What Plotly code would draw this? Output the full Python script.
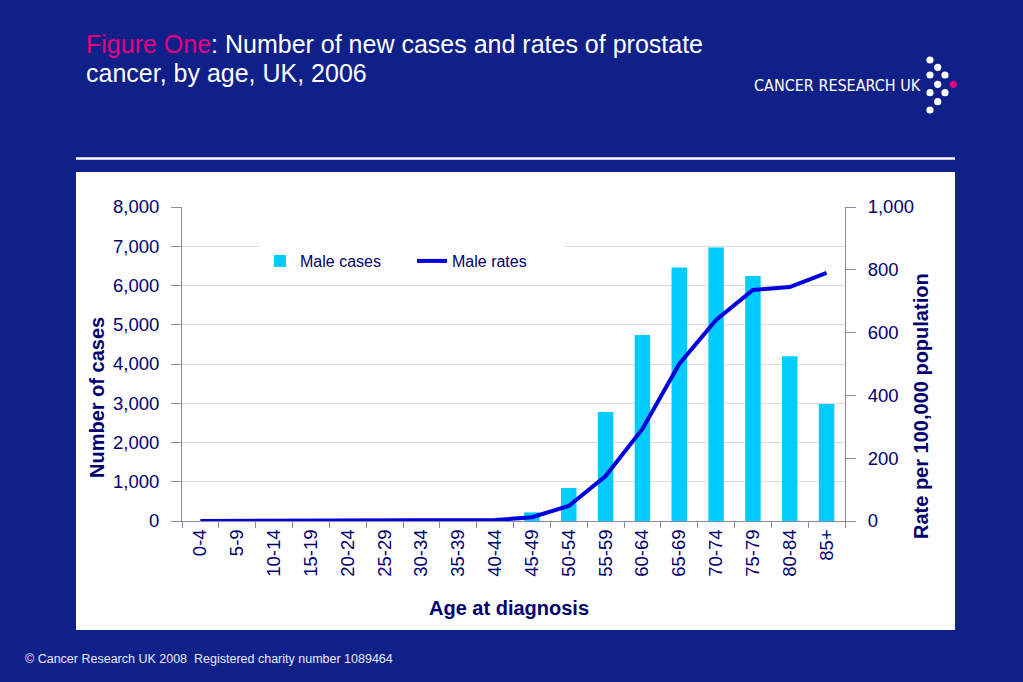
import plotly.graph_objects as go

# ---------------- data ----------------
age_groups = ["0-4", "5-9", "10-14", "15-19", "20-24", "25-29", "30-34", "35-39",
              "40-44", "45-49", "50-54", "55-59", "60-64", "65-69", "70-74",
              "75-79", "80-84", "85+"]
male_cases = [0, 0, 0, 1, 0, 0, 1, 5, 40, 220, 840, 2780, 4740, 6460, 6970, 6240, 4200, 2980]
male_rates = [0, 0, 0, 0, 0, 0, 0, 0.3, 3, 12, 48, 143, 293, 500, 640, 736, 745, 790]
left_ticks = [0, 1000, 2000, 3000, 4000, 5000, 6000, 7000, 8000]
right_ticks = [0, 200, 400, 600, 800, 1000]

# ---------------- layout geometry (pixels) ----------------
FW, FH = 1023, 682
L, R, T, B = 182, 845, 207, 521
W, H = R - L, B - T

def px(x):
    return (x - L) / W

def py(y):
    return 1 - (y - T) / H

NAVY = "#0f2189"
TXT = "#000070"
PINK = "#e6007e"
FONT = "Liberation Sans, Arial, sans-serif"
NARROW = "Liberation Sans Narrow, DejaVu Sans Condensed, Liberation Sans, sans-serif"
TICK = 18.5

fig = go.Figure()
fig.add_trace(go.Bar(x=age_groups, y=male_cases, name="Male cases",
                     marker=dict(color="#00ccff", line=dict(width=0)),
                     width=0.42, yaxis="y"))
fig.add_trace(go.Scatter(x=age_groups, y=male_rates, name="Male rates",
                         mode="lines", line=dict(color="#0000dd", width=4),
                         yaxis="y2"))

shapes = []
# white panel
shapes.append(dict(type="rect", xref="paper", yref="paper", layer="below",
                   x0=px(76), x1=px(955), y0=py(630), y1=py(172),
                   fillcolor="white", line=dict(width=0)))
# white rule
shapes.append(dict(type="line", xref="paper", yref="paper",
                   x0=px(76), x1=px(955), y0=py(158.5), y1=py(158.5),
                   line=dict(color="white", width=2.5)))
# logo dots
dots = [(930, 60), (937.7, 67.3), (930, 75), (945, 75), (937.7, 84.3),
        (930, 92.7), (945, 92.7), (937.7, 101.7), (930, 110)]
r = 3.6
for (cx, cy) in dots:
    shapes.append(dict(type="circle", xref="paper", yref="paper",
                       x0=px(cx - r), x1=px(cx + r), y0=py(cy + r), y1=py(cy - r),
                       fillcolor="white", line=dict(width=0)))
cx, cy = 953.3, 84.3
shapes.append(dict(type="circle", xref="paper", yref="paper",
                   x0=px(cx - r), x1=px(cx + r), y0=py(cy + r), y1=py(cy - r),
                   fillcolor=PINK, line=dict(width=0)))

annotations = [
    dict(text="<span style='color:%s'>Figure One</span>: Number of new cases and rates of prostate" % PINK,
         xref="paper", yref="paper", x=px(84), y=py(44), xanchor="left", yanchor="middle",
         align="left", showarrow=False, font=dict(family=FONT, size=25, color="white")),
    dict(text="cancer, by age, UK, 2006",
         xref="paper", yref="paper", x=px(84), y=py(73.5), xanchor="left", yanchor="middle",
         align="left", showarrow=False, font=dict(family=FONT, size=25, color="white")),
    dict(text="CANCER RESEARCH UK", xref="paper", yref="paper", x=px(923), y=py(86),
         xanchor="right", yanchor="middle", showarrow=False,
         font=dict(family=NARROW, size=16, color="white")),
    dict(text="© Cancer Research UK 2008  Registered charity number 1089464",
         xref="paper", yref="paper", x=px(23), y=py(659), xanchor="left", yanchor="middle",
         showarrow=False, font=dict(family=FONT, size=12.5, color="#e8e8ff")),
    dict(text="<b>Number of cases</b>", xref="paper", yref="paper", x=px(97), y=py(398),
         xanchor="center", yanchor="middle", textangle=-90, showarrow=False,
         font=dict(family=FONT, size=20, color=TXT)),
    dict(text="<b>Rate per 100,000 population</b>", xref="paper", yref="paper", x=px(921), y=py(406),
         xanchor="center", yanchor="middle", textangle=-90, showarrow=False,
         font=dict(family=FONT, size=20, color=TXT)),
    dict(text="<b>Age at diagnosis</b>", xref="paper", yref="paper", x=px(509), y=py(608),
         xanchor="center", yanchor="middle", showarrow=False,
         font=dict(family=FONT, size=20, color=TXT)),
]

fig.update_layout(
    width=FW, height=FH,
    margin=dict(l=L, r=FW - R, t=T, b=FH - B, pad=0),
    paper_bgcolor=NAVY, plot_bgcolor="white",
    font=dict(family=FONT, color=TXT),
    shapes=shapes, annotations=annotations,
    showlegend=True,
    legend=dict(orientation="h", x=px(260), y=py(261), xanchor="left", yanchor="middle",
                bgcolor="white", font=dict(family=FONT, size=16, color=TXT),
                itemwidth=30, traceorder="normal", entrywidth=107, entrywidthmode="pixels"),
    xaxis=dict(type="category", tickangle=-90, tickfont=dict(size=TICK, color=TXT),
               showline=True, linecolor="#8a8aa8", linewidth=1,
               ticks="outside", tickson="boundaries", ticklen=6, tickcolor="#8a8aa8",
               showgrid=False, zeroline=False, range=[-0.5, 17.5]),
    yaxis=dict(range=[0, 8000], tickvals=left_ticks, tickformat=",",
               tickfont=dict(size=TICK, color=TXT), showline=True, linecolor="#8a8aa8",
               linewidth=1, ticks="outside", ticklen=10, tickcolor="#8a8aa8",
               showgrid=True, gridcolor="#dcdcdc", gridwidth=1, zeroline=False,
               ticklabelstandoff=8),
    yaxis2=dict(range=[0, 1000], tickvals=right_ticks, tickformat=",", overlaying="y",
                side="right", tickfont=dict(size=TICK, color=TXT), showline=True,
                linecolor="#8a8aa8", linewidth=1, ticks="outside", ticklen=10,
                tickcolor="#8a8aa8", showgrid=False, zeroline=False, ticklabelstandoff=8),
    bargap=0.58,
)

fig.write_html("out.html")
